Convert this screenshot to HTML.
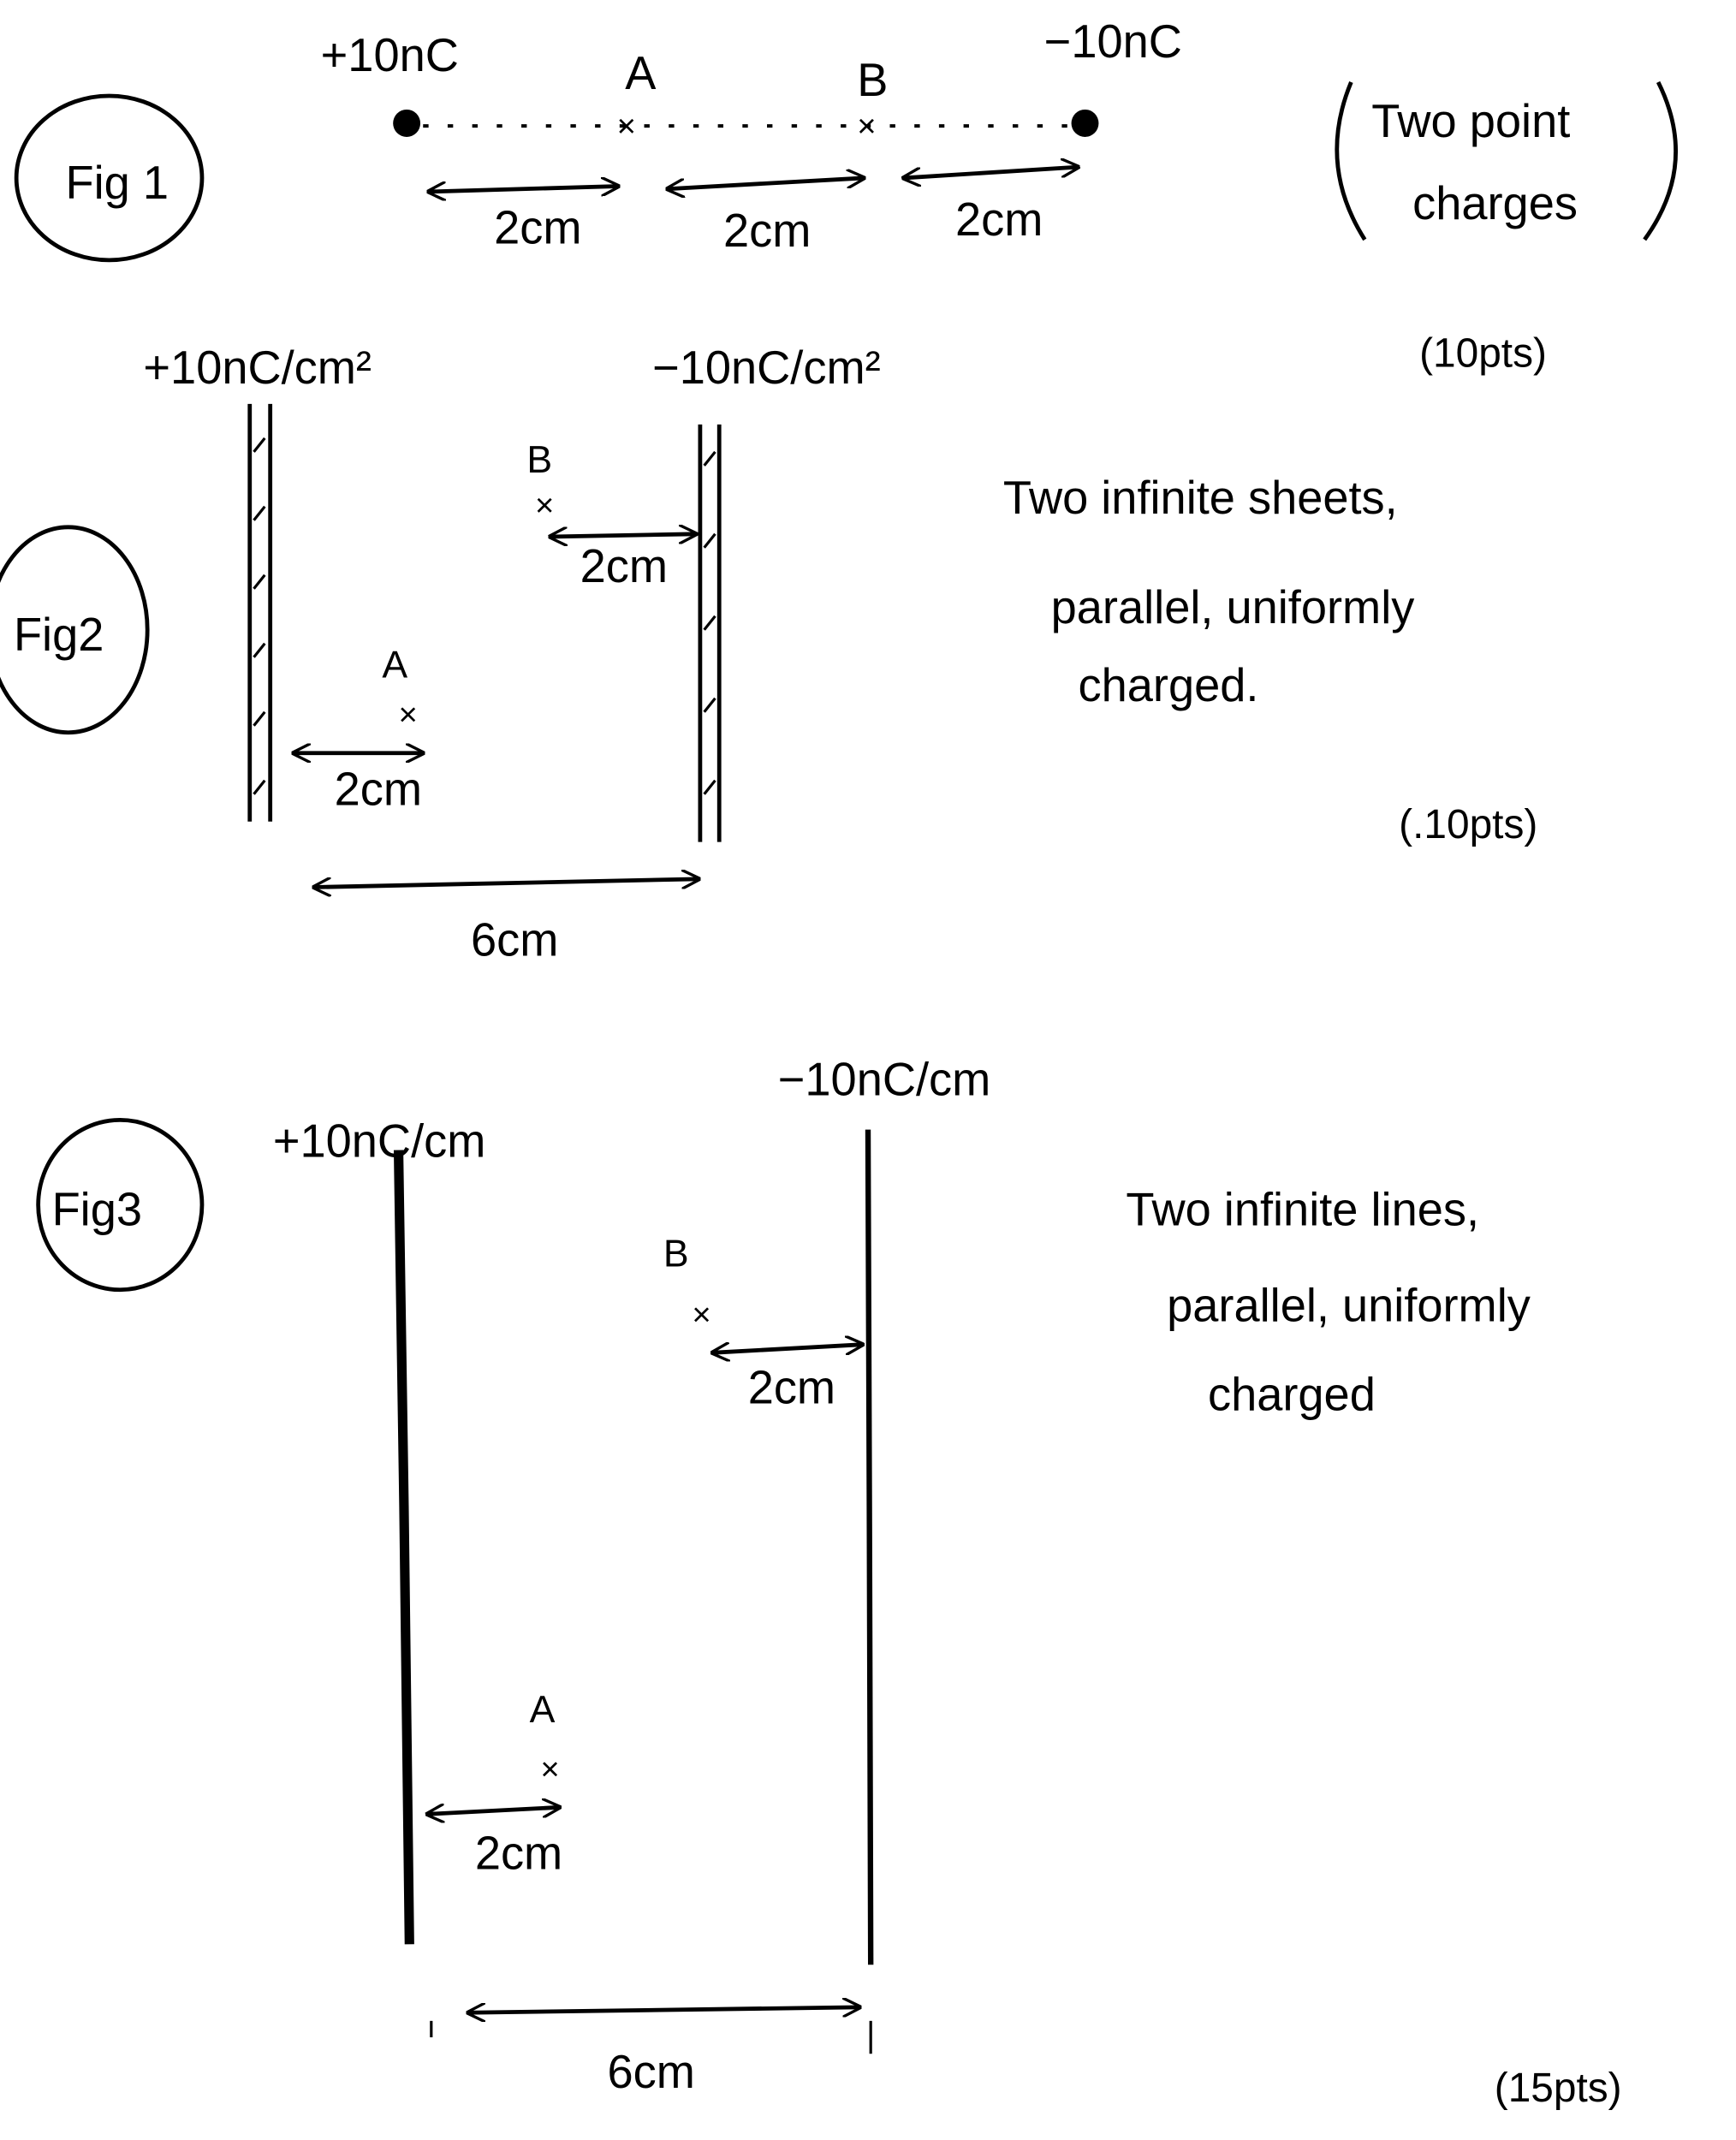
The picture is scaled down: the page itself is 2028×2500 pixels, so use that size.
<!DOCTYPE html>
<html><head><meta charset="utf-8"><style>
html,body{margin:0;padding:0;background:#fff;}
svg{display:block;}
text{font-family:"Liberation Sans",sans-serif;fill:#000;}
</style></head><body>
<svg width="2028" height="2500" viewBox="0 0 1272 1563" preserveAspectRatio="none" xmlns="http://www.w3.org/2000/svg">
<defs>
<marker id="a" viewBox="0 0 10 10" refX="9" refY="5" markerWidth="14" markerHeight="14" markerUnits="userSpaceOnUse" orient="auto-start-reverse">
<path d="M0,0 L10,5 L0,10" fill="none" stroke="#000" stroke-width="1.5"/></marker>
</defs>
<g stroke="#000" fill="none" stroke-width="3">
<!-- Fig1 -->
<ellipse cx="80" cy="130" rx="68" ry="60"/>
<line x1="310" y1="92" x2="785" y2="92" stroke-dasharray="4 14" stroke-width="2.5"/>
<line x1="314" y1="140" x2="453" y2="136" marker-start="url(#a)" marker-end="url(#a)"/>
<line x1="489" y1="138" x2="633" y2="130" marker-start="url(#a)" marker-end="url(#a)"/>
<line x1="662" y1="130" x2="790" y2="122" marker-start="url(#a)" marker-end="url(#a)"/>
<path d="M990,60 Q965,120 1000,175"/><path d="M1215,60 Q1245,120 1205,175"/>
<!-- Fig2 -->
<ellipse cx="50" cy="460" rx="58" ry="75"/>
<line x1="183" y1="295" x2="183" y2="600"/><line x1="198" y1="295" x2="198" y2="600"/>
<line x1="513" y1="310" x2="513" y2="615"/><line x1="527" y1="310" x2="527" y2="615"/>
<path d="M186,330 l8,-10 M186,380 l8,-10 M186,430 l8,-10 M186,480 l8,-10 M186,530 l8,-10 M186,580 l8,-10 M516,340 l8,-10 M516,400 l8,-10 M516,460 l8,-10 M516,520 l8,-10 M516,580 l8,-10" stroke-width="2"/>
<line x1="403" y1="392" x2="510" y2="390" marker-start="url(#a)" marker-end="url(#a)"/>
<line x1="215" y1="550" x2="310" y2="550" marker-start="url(#a)" marker-end="url(#a)"/>
<line x1="230" y1="648" x2="512" y2="642" marker-start="url(#a)" marker-end="url(#a)"/>
<!-- Fig3 -->
<ellipse cx="88" cy="880" rx="60" ry="62"/>
<path d="M292,840 L296,1100 L300,1420" stroke-width="7"/>
<path d="M636,825 L637,1100 L638,1435" stroke-width="4"/>
<line x1="522" y1="988" x2="632" y2="982" marker-start="url(#a)" marker-end="url(#a)"/>
<line x1="313" y1="1325" x2="410" y2="1320" marker-start="url(#a)" marker-end="url(#a)"/>
<line x1="343" y1="1470" x2="630" y2="1466" marker-start="url(#a)" marker-end="url(#a)"/>
<line x1="316" y1="1476" x2="316" y2="1488" stroke-width="2"/><line x1="638" y1="1476" x2="638" y2="1500" stroke-width="2"/>
</g>
<circle cx="298" cy="90" r="10" fill="#000"/><circle cx="795" cy="90" r="10" fill="#000"/>
<g font-size="34">
<text x="48" y="145">Fig 1</text>
<text x="235" y="52">+10nC</text>
<text x="458" y="65">A</text><text x="628" y="70">B</text>
<text x="452" y="100" font-size="24">×</text><text x="628" y="100" font-size="24">×</text>
<text x="765" y="42">−10nC</text>
<text x="362" y="178">2cm</text><text x="530" y="180">2cm</text><text x="700" y="172">2cm</text>
<text x="1005" y="100">Two point</text><text x="1035" y="160">charges</text>
<text x="1040" y="268" font-size="30">(10pts)</text>

<text x="105" y="280">+10nC/cm²</text>
<text x="478" y="280">−10nC/cm²</text>
<text x="10" y="475">Fig2</text>
<text x="386" y="345" font-size="28">B</text><text x="392" y="377" font-size="24">×</text>
<text x="425" y="425">2cm</text>
<text x="280" y="495" font-size="28">A</text><text x="292" y="530" font-size="24">×</text>
<text x="245" y="588">2cm</text>
<text x="345" y="698">6cm</text>
<text x="735" y="375">Two infinite sheets,</text>
<text x="770" y="455">parallel, uniformly</text>
<text x="790" y="512">charged.</text>
<text x="1025" y="612" font-size="30">(.10pts)</text>

<text x="570" y="800">−10nC/cm</text>
<text x="200" y="845">+10nC/cm</text>
<text x="38" y="895">Fig3</text>
<text x="486" y="925" font-size="28">B</text><text x="507" y="968" font-size="24">×</text>
<text x="548" y="1025">2cm</text>
<text x="388" y="1258" font-size="28">A</text><text x="396" y="1300" font-size="24">×</text>
<text x="348" y="1365">2cm</text>
<text x="445" y="1525">6cm</text>
<text x="825" y="895">Two infinite lines,</text>
<text x="855" y="965">parallel, uniformly</text>
<text x="885" y="1030">charged</text>
<text x="1095" y="1535" font-size="30">(15pts)</text>
</g>
</svg>
</body></html>
